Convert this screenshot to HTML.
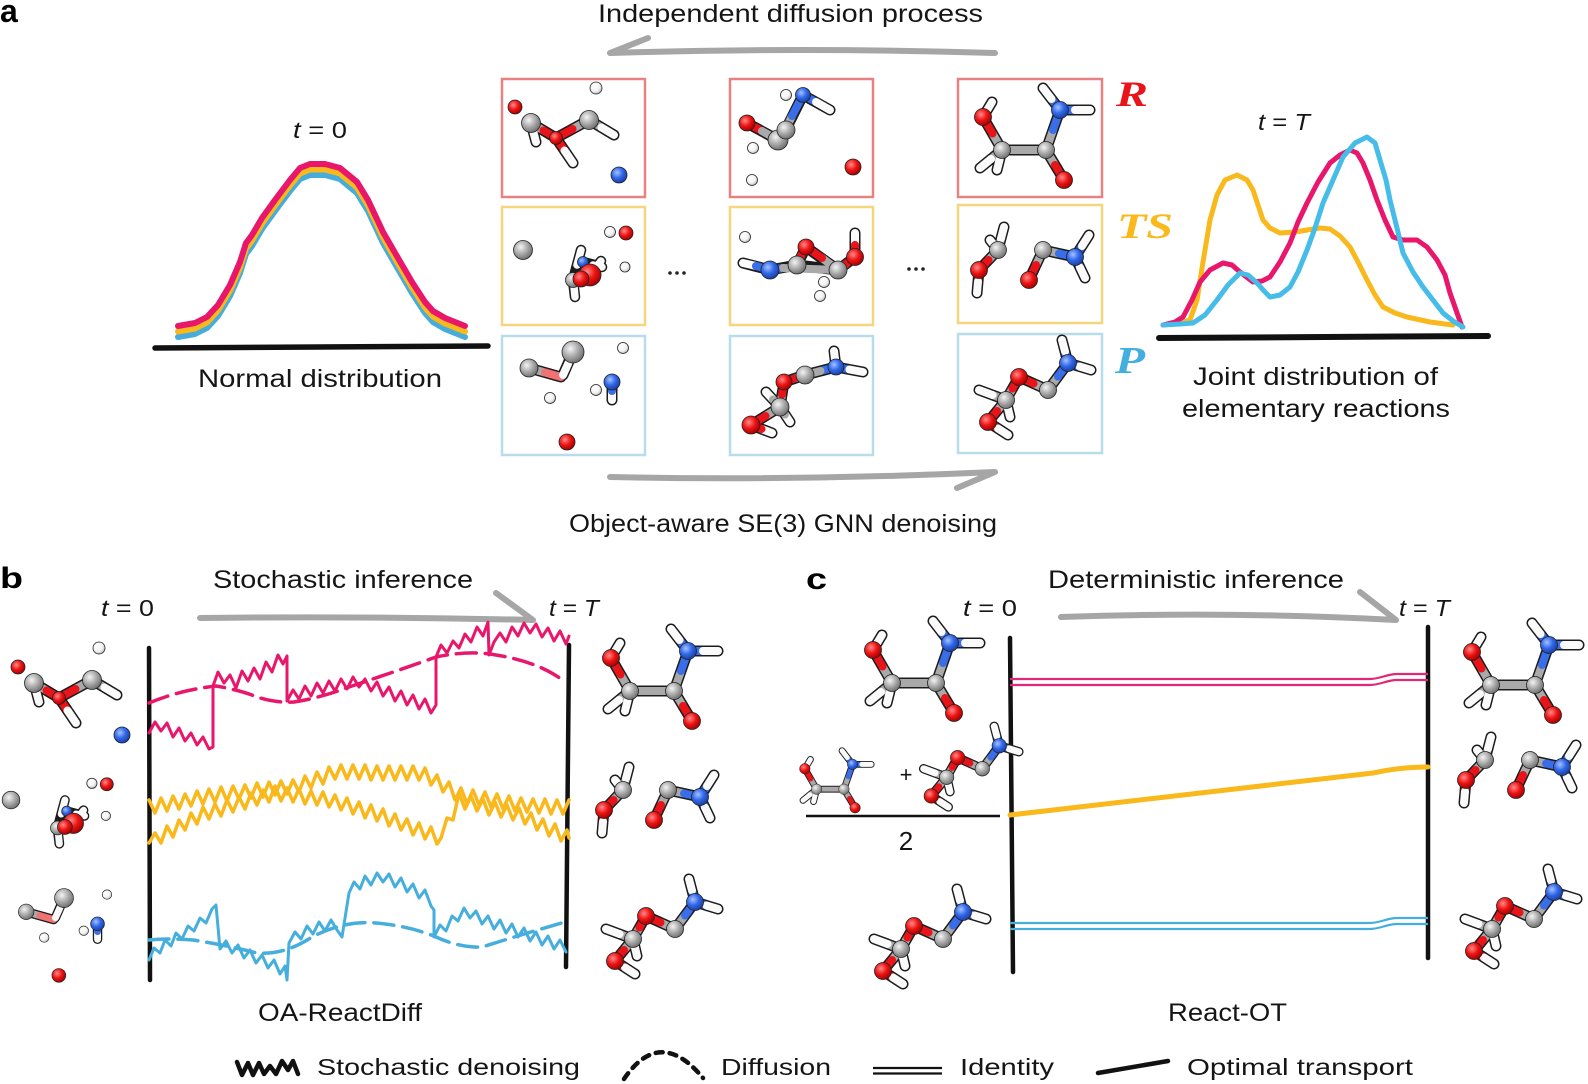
<!DOCTYPE html>
<html><head><meta charset="utf-8"><style>
html,body{margin:0;padding:0;background:#fff;}
svg{display:block;}
text{font-family:"Liberation Sans",sans-serif;fill:#151515;}
</style></head><body>
<svg width="1588" height="1084" viewBox="0 0 1588 1084" xmlns="http://www.w3.org/2000/svg">
<defs>
<radialGradient id="gC" cx="0.38" cy="0.35" r="0.7"><stop offset="0" stop-color="#f4f4f4"/><stop offset="0.5" stop-color="#acacac"/><stop offset="1" stop-color="#6a6a6a"/></radialGradient>
<radialGradient id="gO" cx="0.38" cy="0.35" r="0.7"><stop offset="0" stop-color="#ff8a8a"/><stop offset="0.5" stop-color="#ee1414"/><stop offset="1" stop-color="#9a0000"/></radialGradient>
<radialGradient id="gN" cx="0.38" cy="0.35" r="0.7"><stop offset="0" stop-color="#a6c2ff"/><stop offset="0.5" stop-color="#3068ea"/><stop offset="1" stop-color="#1a3a99"/></radialGradient>
<radialGradient id="gH" cx="0.38" cy="0.35" r="0.7"><stop offset="0" stop-color="#ffffff"/><stop offset="0.6" stop-color="#f2f2f2"/><stop offset="1" stop-color="#b8b8b8"/></radialGradient>

<g id="molR">
<path fill="none" stroke="#1c1c1c" stroke-width="11" stroke-linecap="round" d="M-47,-23L-38,-38M-47,-23L-28,10M-28,10L-50,28M-28,10L-33,30M-28,10L16,10M16,10L30,-30M30,-30L13,-52M30,-30L60,-30M16,10L34,40"/>
<path fill="none" stroke="#a9a9a9" stroke-width="8" stroke-linecap="round" d="M-28,10L-37.5,-6.5M-28,10L-39,19M-28,10L-30.5,20M-28,10L16,10M16,10L23,-10M16,10L25,25"/>
<path fill="none" stroke="#e8141a" stroke-width="8" stroke-linecap="round" d="M-47,-23L-42.5,-30.5M-47,-23L-37.5,-6.5M34,40L25,25"/>
<path fill="none" stroke="#3a6de8" stroke-width="8" stroke-linecap="round" d="M30,-30L23,-10M30,-30L21.5,-41M30,-30L45,-30"/>
<path fill="none" stroke="#fafafa" stroke-width="8" stroke-linecap="round" d="M-42.5,-30.5L-38,-38M-39,19L-50,28M-30.5,20L-33,30M21.5,-41L13,-52M45,-30L60,-30"/>
<g stroke="#222" stroke-width="0.8">
<circle cx="-28" cy="10" r="8.5" fill="url(#gC)"/><circle cx="16" cy="10" r="8.5" fill="url(#gC)"/>
<circle cx="-47" cy="-23" r="8.5" fill="url(#gO)"/><circle cx="30" cy="-30" r="8.5" fill="url(#gN)"/>
<circle cx="34" cy="40" r="8.5" fill="url(#gO)"/>
</g>
</g>

<g id="molTS">
<path fill="none" stroke="#1c1c1c" stroke-width="11" stroke-linecap="round" d="M-32,-12L-26,-35M-32,-12L-40,-22M-32,-12L-51,8M-51,8L-53,31M-1,18L13,-12M13,-12L45,-5M45,-5L59,-27M45,-5L55,16"/>
<path fill="none" stroke="#a9a9a9" stroke-width="8" stroke-linecap="round" d="M-32,-12L-29,-23.5M-32,-12L-36,-17M-32,-12L-41.5,-2M13,-12L6,3M13,-12L29,-8.5"/>
<path fill="none" stroke="#e8141a" stroke-width="8" stroke-linecap="round" d="M-51,8L-41.5,-2M-51,8L-52,19.5M-1,18L6,3"/>
<path fill="none" stroke="#3a6de8" stroke-width="8" stroke-linecap="round" d="M45,-5L29,-8.5M45,-5L52,-16M45,-5L50,5.5"/>
<path fill="none" stroke="#fafafa" stroke-width="8" stroke-linecap="round" d="M-29,-23.5L-26,-35M-36,-17L-40,-22M-52,19.5L-53,31M52,-16L59,-27M50,5.5L55,16"/>
<g stroke="#222" stroke-width="0.8">
<circle cx="-32" cy="-12" r="8.5" fill="url(#gC)"/><circle cx="-51" cy="8" r="8.5" fill="url(#gO)"/>
<circle cx="-1" cy="18" r="8.5" fill="url(#gO)"/><circle cx="13" cy="-12" r="8.5" fill="url(#gC)"/>
<circle cx="45" cy="-5" r="8.5" fill="url(#gN)"/>
</g>
</g>

<g id="molP">
<path fill="none" stroke="#1c1c1c" stroke-width="11" stroke-linecap="round" d="M38,-32L32,-55M38,-32L61,-25M38,-32L18,-5M18,-5L-11,-18M-11,-18L-24,5M-24,5L-51,-5M-24,5L-20,22M-24,5L-42,27M-42,27L-22,40"/>
<path fill="none" stroke="#a9a9a9" stroke-width="8" stroke-linecap="round" d="M18,-5L28,-18.5M18,-5L3.5,-11.5M-24,5L-17.5,-6.5M-24,5L-37.5,0M-24,5L-22,13.5M-24,5L-33,16"/>
<path fill="none" stroke="#e8141a" stroke-width="8" stroke-linecap="round" d="M-11,-18L3.5,-11.5M-11,-18L-17.5,-6.5M-42,27L-33,16M-42,27L-32,33.5"/>
<path fill="none" stroke="#3a6de8" stroke-width="8" stroke-linecap="round" d="M38,-32L35,-43.5M38,-32L49.5,-28.5M38,-32L28,-18.5"/>
<path fill="none" stroke="#fafafa" stroke-width="8" stroke-linecap="round" d="M35,-43.5L32,-55M49.5,-28.5L61,-25M-37.5,0L-51,-5M-22,13.5L-20,22M-32,33.5L-22,40"/>
<g stroke="#222" stroke-width="0.8">
<circle cx="38" cy="-32" r="8.5" fill="url(#gN)"/><circle cx="18" cy="-5" r="8.5" fill="url(#gC)"/>
<circle cx="-11" cy="-18" r="8.5" fill="url(#gO)"/><circle cx="-24" cy="5" r="8.5" fill="url(#gC)"/>
<circle cx="-42" cy="27" r="8.5" fill="url(#gO)"/>
</g>
</g>

<g id="noiseR">
<path fill="none" stroke="#1c1c1c" stroke-width="11" stroke-linecap="round" d="M-42,-14L-37,5M-42,-14L-17,1M-17,1L16,-17M16,-17L41,-2M-17,1L0,26"/>
<path fill="none" stroke="#a9a9a9" stroke-width="8" stroke-linecap="round" d="M-42,-14L-39.5,-4.5M-42,-14L-29.5,-6.5M16,-17L-0.5,-8M16,-17L28.5,-9.5"/>
<path fill="none" stroke="#e8141a" stroke-width="8" stroke-linecap="round" d="M-17,1L-29.5,-6.5M-17,1L-0.5,-8M-17,1L-8.5,13.5"/>
<path fill="none" stroke="#fafafa" stroke-width="8" stroke-linecap="round" d="M-39.5,-4.5L-37,5M28.5,-9.5L41,-2M-8.5,13.5L0,26"/>
<g stroke="#222" stroke-width="0.8">
<circle cx="-42" cy="-14" r="9.5" fill="url(#gC)"/><circle cx="16" cy="-17" r="9.5" fill="url(#gC)"/>
<circle cx="-17" cy="1" r="6.5" fill="url(#gO)"/>
<circle cx="23" cy="-49" r="6" fill="url(#gH)"/><circle cx="-58" cy="-30" r="7" fill="url(#gO)"/>
<circle cx="46" cy="38" r="8" fill="url(#gN)"/>
</g>
</g>

<g id="noiseTS">
<path fill="none" stroke="#1c1c1c" stroke-width="10.5" stroke-linecap="round" d="M0,15L8,-15M0,15L2,32M10,-3L29,2M17,10L28,-4"/>
<path fill="none" stroke="#fafafa" stroke-width="7.5" stroke-linecap="round" d="M4,0L8,-15M1,22L2,32M20,0L29,2M22,4L28,-4"/>
<g stroke="#222" stroke-width="0.8">
<circle cx="-50" cy="-15" r="9.5" fill="url(#gC)"/>
<circle cx="37" cy="-33" r="5.5" fill="url(#gH)"/><circle cx="53" cy="-32" r="7" fill="url(#gO)"/>
<circle cx="52" cy="2" r="5" fill="url(#gH)"/>
<circle cx="0" cy="15" r="7.5" fill="url(#gC)"/><circle cx="10" cy="-3" r="5.5" fill="url(#gN)"/>
<circle cx="17" cy="10" r="11" fill="url(#gO)"/><circle cx="8" cy="14" r="8" fill="url(#gO)"/>
</g>
</g>

<g id="noiseP">
<path fill="none" stroke="#1c1c1c" stroke-width="11" stroke-linecap="round" d="M0,-43L-10,-20M-44,-27L-12,-18M39,-13L39,5"/>
<path fill="none" stroke="#a9a9a9" stroke-width="8" stroke-linecap="round" d="M0,-43L-5,-31M-44,-27L-28,-22.5"/>
<path fill="none" stroke="#f07272" stroke-width="8" stroke-linecap="round" d="M-28,-22.5L-12,-18"/>
<path fill="none" stroke="#fafafa" stroke-width="8" stroke-linecap="round" d="M-5,-31L-10,-20M39,-4L39,5"/>
<path fill="none" stroke="#3a6de8" stroke-width="8" stroke-linecap="round" d="M39,-13L39,-4"/>
<g stroke="#222" stroke-width="0.8">
<circle cx="-44" cy="-27" r="9" fill="url(#gC)"/><circle cx="0" cy="-43" r="11" fill="url(#gC)"/>
<circle cx="39" cy="-13" r="8" fill="url(#gN)"/>
<circle cx="50" cy="-47" r="5.5" fill="url(#gH)"/><circle cx="23" cy="-5" r="5.5" fill="url(#gH)"/>
<circle cx="-23" cy="3" r="5.5" fill="url(#gH)"/><circle cx="-6" cy="47" r="8" fill="url(#gO)"/>
</g>
</g>
</defs>

<rect width="1588" height="1084" fill="#fff"/>

<!-- ===== Panel a ===== -->
<text x="0" y="22" font-size="32" font-weight="bold" style="fill:#000">a</text>
<text x="598" y="22" font-size="25" textLength="385" lengthAdjust="spacingAndGlyphs">Independent diffusion process</text>
<path d="M995,53 Q800,47 610,53 M610,53 L648,38" fill="none" stroke="#a6a6a6" stroke-width="6" stroke-linecap="round" stroke-linejoin="round"/>

<text x="293" y="138" font-size="23" textLength="54" lengthAdjust="spacingAndGlyphs"><tspan font-style="italic">t</tspan> = 0</text>
<g fill="none" stroke-width="6" stroke-linejoin="round" stroke-linecap="round">
<polyline transform="translate(0,11)" stroke="#45acdc" points="178,326 195,323 207,317 218,305 230,285 240,262 246,243 252,235 262,218 275,200 290,180 300,168 310,164 325,164 340,168 357,182 368,200 383,232 398,258 412,282 425,302 433,311 445,318 455,322 465,326"/>
<polyline transform="translate(0,5.5)" stroke="#f9b81b" points="178,326 195,323 207,317 218,305 230,285 240,262 246,243 252,235 262,218 275,200 290,180 300,168 310,164 325,164 340,168 357,182 368,200 383,232 398,258 412,282 425,302 433,311 445,318 455,322 465,326"/>
<polyline stroke="#e8176b" points="178,326 195,323 207,317 218,305 230,285 240,262 246,243 252,235 262,218 275,200 290,180 300,168 310,164 325,164 340,168 357,182 368,200 383,232 398,258 412,282 425,302 433,311 445,318 455,322 465,326"/>
</g>
<path d="M155,348 L488,346" stroke="#111" stroke-width="5.5" stroke-linecap="round"/>
<text x="198" y="387" font-size="25" textLength="244" lengthAdjust="spacingAndGlyphs">Normal distribution</text>

<!-- boxes -->
<g fill="none" stroke-width="2.5">
<rect x="502" y="79" width="143" height="118" stroke="#e88282"/>
<rect x="730" y="79" width="143" height="118" stroke="#e88282"/>
<rect x="958" y="79" width="144" height="118" stroke="#e88282"/>
<rect x="502" y="207" width="143" height="118" stroke="#f6d67c"/>
<rect x="730" y="207" width="143" height="118" stroke="#f6d67c"/>
<rect x="958" y="205" width="144" height="118" stroke="#f6d67c"/>
<rect x="502" y="336" width="143" height="119" stroke="#b8dcea"/>
<rect x="730" y="336" width="143" height="119" stroke="#b8dcea"/>
<rect x="958" y="334" width="144" height="119" stroke="#b8dcea"/>
</g>
<g fill="#222">
<circle cx="670" cy="273" r="1.8"/><circle cx="677" cy="273" r="1.8"/><circle cx="684" cy="273" r="1.8"/>
<circle cx="909" cy="269" r="1.8"/><circle cx="916" cy="269" r="1.8"/><circle cx="923" cy="269" r="1.8"/>
</g>

<use href="#noiseR" transform="translate(573,137)"/>
<use href="#noiseTS" transform="translate(573,265)"/>
<use href="#noiseP" transform="translate(573,395)"/>

<!-- col2 row1 -->
<g>
<path fill="none" stroke="#1c1c1c" stroke-width="11" stroke-linecap="round" d="M747,123L778,140M782,137L803,95M803,95L830,110"/>
<path fill="none" stroke="#e8141a" stroke-width="8" stroke-linecap="round" d="M747,123L762,131"/>
<path fill="none" stroke="#a9a9a9" stroke-width="8" stroke-linecap="round" d="M762,131L778,140M782,137L792,116"/>
<path fill="none" stroke="#3a6de8" stroke-width="8" stroke-linecap="round" d="M792,116L803,95M803,95L816,102"/>
<path fill="none" stroke="#fafafa" stroke-width="8" stroke-linecap="round" d="M816,102L830,110"/>
<g stroke="#222" stroke-width="0.8">
<circle cx="778" cy="140" r="10" fill="url(#gC)"/><circle cx="786" cy="130" r="9" fill="url(#gC)"/>
<circle cx="747" cy="123" r="8" fill="url(#gO)"/><circle cx="803" cy="95" r="7.5" fill="url(#gN)"/>
<circle cx="786" cy="95" r="5.5" fill="url(#gH)"/><circle cx="753" cy="148" r="5.5" fill="url(#gH)"/>
<circle cx="752" cy="180" r="5.5" fill="url(#gH)"/><circle cx="853" cy="167" r="8" fill="url(#gO)"/>
</g>
</g>
<!-- col2 row2 -->
<g>
<path fill="none" stroke="#1c1c1c" stroke-width="11" stroke-linecap="round" d="M743,263L770,270M770,270L797,265M797,265L838,270M797,265L806,247M806,247L838,270M838,270L855,257M855,257L855,233"/>
<path fill="none" stroke="#fafafa" stroke-width="8" stroke-linecap="round" d="M743,263L756,266M855,245L855,233"/>
<path fill="none" stroke="#3a6de8" stroke-width="8" stroke-linecap="round" d="M756,266L770,270M770,270L783,268"/>
<path fill="none" stroke="#a9a9a9" stroke-width="8" stroke-linecap="round" d="M783,268L838,270M797,265L801,256M822,258L838,270M838,270L846,264"/>
<path fill="none" stroke="#e8141a" stroke-width="8" stroke-linecap="round" d="M801,256L806,247M806,247L822,258M846,264L855,257M855,257L855,245"/>
<g stroke="#222" stroke-width="0.8">
<circle cx="770" cy="270" r="9" fill="url(#gN)"/><circle cx="797" cy="265" r="9" fill="url(#gC)"/>
<circle cx="838" cy="270" r="9" fill="url(#gC)"/><circle cx="806" cy="247" r="8" fill="url(#gO)"/>
<circle cx="855" cy="257" r="8.5" fill="url(#gO)"/>
<circle cx="745" cy="237" r="5.5" fill="url(#gH)"/><circle cx="824" cy="282" r="5.5" fill="url(#gH)"/>
<circle cx="820" cy="296" r="5.5" fill="url(#gH)"/>
</g>
</g>
<!-- col2 row3 -->
<g>
<path fill="none" stroke="#1c1c1c" stroke-width="11" stroke-linecap="round" d="M836,367L834,351M836,367L863,372M836,367L805,375M805,375L784,382M784,382L780,407M780,407L766,392M780,407L790,422M780,407L751,425M751,425L772,433"/>
<path fill="none" stroke="#3a6de8" stroke-width="8" stroke-linecap="round" d="M836,367L835,359M836,367L849.5,369.5M836,367L820.5,371"/>
<path fill="none" stroke="#fafafa" stroke-width="8" stroke-linecap="round" d="M835,359L834,351M849.5,369.5L863,372M773,399.5L766,392M785,414.5L790,422M761.5,429L772,433"/>
<path fill="none" stroke="#a9a9a9" stroke-width="8" stroke-linecap="round" d="M820.5,371L805,375M805,375L794.5,378.5M782,394.5L780,407M780,407L773,399.5M780,407L785,414.5M780,407L765.5,416"/>
<path fill="none" stroke="#e8141a" stroke-width="8" stroke-linecap="round" d="M794.5,378.5L784,382M784,382L782,394.5M765.5,416L751,425M751,425L761.5,429"/>
<g stroke="#222" stroke-width="0.8">
<circle cx="836" cy="367" r="8" fill="url(#gN)"/><circle cx="805" cy="375" r="9" fill="url(#gC)"/>
<circle cx="784" cy="382" r="8" fill="url(#gO)"/><circle cx="780" cy="407" r="9" fill="url(#gC)"/>
<circle cx="751" cy="425" r="9" fill="url(#gO)"/>
</g>
</g>

<use href="#molR" transform="translate(1030,140)"/>
<use href="#molTS" transform="translate(1030,262)"/>
<use href="#molP" transform="translate(1030,395)"/>

<text x="1116" y="106" font-size="36" font-style="italic" font-weight="bold" textLength="32" lengthAdjust="spacingAndGlyphs" style="fill:#e8141a;font-family:'Liberation Serif',serif">R</text>
<text x="1117" y="238" font-size="36" font-style="italic" font-weight="bold" textLength="56" lengthAdjust="spacingAndGlyphs" style="fill:#f9b81b;font-family:'Liberation Serif',serif">TS</text>
<text x="1115" y="373" font-size="38" font-style="italic" font-weight="bold" textLength="30" lengthAdjust="spacingAndGlyphs" style="fill:#43aee0;font-family:'Liberation Serif',serif">P</text>

<text x="1258" y="130" font-size="23" textLength="52" lengthAdjust="spacingAndGlyphs"><tspan font-style="italic">t</tspan> = <tspan font-style="italic">T</tspan></text>
<g fill="none" stroke-width="5" stroke-linejoin="round" stroke-linecap="round">
<polyline stroke="#f9b81b" points="1163,325 1180,323 1190,320 1197,300 1203,262 1210,220 1217,195 1225,180 1237,175 1247,180 1253,190 1258,205 1263,220 1270,228 1280,233 1295,232 1307,230 1320,228 1330,229 1340,236 1350,247 1358,262 1367,280 1375,295 1383,307 1395,313 1407,317 1430,322 1453,325"/>
<polyline stroke="#e8176b" points="1163,325 1175,322 1183,317 1192,300 1200,282 1210,270 1223,263 1232,265 1240,272 1253,282 1262,281 1270,277 1280,262 1290,243 1298,222 1307,203 1318,182 1330,163 1340,155 1350,150 1357,153 1363,163 1370,180 1377,200 1385,220 1393,237 1403,240 1417,240 1427,247 1437,260 1445,275 1450,293 1456,310 1462,327"/>
<polyline stroke="#45bde8" points="1163,325 1180,324 1193,323 1205,315 1217,300 1228,285 1240,273 1248,275 1257,283 1265,292 1270,297 1280,295 1290,287 1298,272 1307,250 1315,228 1323,203 1333,180 1343,157 1355,143 1367,137 1375,143 1380,160 1386,180 1390,200 1397,228 1403,253 1413,272 1423,287 1433,300 1443,313 1453,321 1463,327"/>
</g>
<path d="M1159,338 L1488,336" stroke="#111" stroke-width="6" stroke-linecap="round"/>
<text x="1193" y="385" font-size="25" textLength="245" lengthAdjust="spacingAndGlyphs">Joint distribution of</text>
<text x="1182" y="417" font-size="25" textLength="268" lengthAdjust="spacingAndGlyphs">elementary reactions</text>

<path d="M610,477 Q800,481 995,472 M995,472 L957,488" fill="none" stroke="#a6a6a6" stroke-width="6" stroke-linecap="round" stroke-linejoin="round"/>
<text x="569" y="532" font-size="25" textLength="428" lengthAdjust="spacingAndGlyphs">Object-aware SE(3) GNN denoising</text>

<!-- ===== Panel b ===== -->
<text x="0" y="588" font-size="30" font-weight="bold" textLength="23" lengthAdjust="spacingAndGlyphs" style="fill:#000">b</text>
<text x="213" y="588" font-size="25" textLength="260" lengthAdjust="spacingAndGlyphs">Stochastic inference</text>
<text x="101" y="616" font-size="23" textLength="53" lengthAdjust="spacingAndGlyphs"><tspan font-style="italic">t</tspan> = 0</text>
<text x="549" y="616" font-size="23" textLength="50" lengthAdjust="spacingAndGlyphs"><tspan font-style="italic">t</tspan> = <tspan font-style="italic">T</tspan></text>
<path d="M200,618 Q370,616 533,620 M533,620 L496,593" fill="none" stroke="#a6a6a6" stroke-width="6" stroke-linecap="round" stroke-linejoin="round"/>

<path d="M149,648 L150,980" stroke="#111" stroke-width="4.5" stroke-linecap="round"/>
<path d="M569,645 L566,967" stroke="#111" stroke-width="4.5" stroke-linecap="round"/>

<g fill="none" stroke-linejoin="round" stroke-linecap="round">
<path stroke="#e8176b" stroke-width="3.5" stroke-dasharray="20 9" d="M149,703 Q180,690 216,686 Q240,690 257,697 Q275,703 294,702 Q320,698 349,687 Q400,670 436,657 Q470,650 496,655 Q540,662 565,682"/>
<polyline stroke="#e8176b" stroke-width="3" points="149,733 155,722 161,731 167,723 173,737 179,728 185,741 191,733 197,745 203,737 209,749 213,747 213,686 218,672 224,683 230,675 236,688 242,671 248,681 254,668 260,679 266,662 272,672 278,655 283,664 287,656 287,701 293,690 299,699 305,686 311,696 317,683 323,693 329,681 335,691 341,679 347,689 353,677 359,687 365,679 371,691 377,682 383,696 389,687 395,701 401,691 407,705 413,695 419,709 425,699 431,713 436,705 436,657 441,645 447,653 453,641 459,648 465,634 471,642 477,627 483,636 488,622 489,655 494,642 500,633 506,642 512,627 518,636 524,623 530,633 536,624 542,637 548,628 554,641 560,631 566,644 569,636"/>

<polyline stroke="#f9b81b" stroke-width="3.5" points="149,800 155,813 161,798 167,811 173,796 179,809 185,794 191,806 197,791 203,804 209,789 215,802 221,787 227,801 233,786 239,799 245,785 251,798 257,783 263,797 269,782 275,795 281,781 287,794 293,780 299,792 305,776 311,788 317,772 323,784 329,767 335,779 341,765 347,779 353,765 359,779 365,765 371,780 377,766 383,780 389,766 395,780 401,766 407,780 413,766 419,780 425,768 431,785 437,775 443,792 449,782 455,800 461,788 467,804 473,790 479,805 485,792 491,807 497,794 503,809 509,796 515,811 521,798 527,812 533,799 539,813 545,799 551,814 557,800 563,814 569,800"/>
<polyline stroke="#f9b81b" stroke-width="3.5" points="149,843 155,833 161,843 167,826 173,837 179,820 185,830 191,813 197,824 203,807 209,819 215,804 221,816 227,800 233,812 239,797 245,809 251,793 257,805 263,790 269,802 275,786 281,801 287,788 293,802 299,789 305,804 311,791 317,805 323,792 329,807 335,795 341,810 347,798 353,814 359,802 365,818 371,805 377,821 383,809 389,826 395,814 401,830 407,819 413,835 419,823 425,839 431,827 437,844 441,838 447,818 453,820 459,793 465,809 471,796 477,811 483,799 489,815 495,802 501,817 507,805 513,820 519,808 525,824 531,813 537,830 543,819 549,836 555,824 561,841 567,830 569,838"/>

<path stroke="#45aedd" stroke-width="3.5" stroke-dasharray="20 9" d="M149,940 Q170,938 193,940 Q225,945 257,953 Q285,955 312,937 Q345,920 376,923 Q410,926 436,937 Q460,948 482,947 Q520,935 565,922"/>
<polyline stroke="#45aedd" stroke-width="3" points="149,960 154,948 160,953 165,940 171,946 176,933 182,939 188,926 194,931 200,918 206,923 212,909 216,905 220,949 226,941 232,953 238,945 244,958 250,950 256,963 262,955 268,968 274,960 280,974 285,966 287,980 289,943 295,932 301,939 307,926 313,934 319,922 325,931 331,920 337,930 342,937 349,893 354,882 360,889 365,876 371,885 377,873 383,882 389,874 395,887 401,878 407,892 413,884 419,898 425,890 431,906 434,910 434,937 440,925 446,931 452,916 458,921 464,908 470,918 476,911 482,924 488,916 494,929 500,920 506,933 512,924 518,937 524,928 530,941 536,932 542,945 548,936 554,949 560,940 566,952"/>
</g>

<use href="#noiseR" transform="translate(76,697)"/>
<use href="#noiseTS" transform="translate(57.5,814) scale(0.93)"/>
<use href="#noiseP" transform="translate(64,935) scale(0.86)"/>
<use href="#molR" transform="translate(658,681)"/>
<use href="#molTS" transform="translate(655,802)"/>
<use href="#molP" transform="translate(657,934)"/>

<text x="258" y="1021" font-size="25" textLength="164" lengthAdjust="spacingAndGlyphs">OA-ReactDiff</text>

<!-- ===== Panel c ===== -->
<text x="806" y="589" font-size="30" font-weight="bold" textLength="21" lengthAdjust="spacingAndGlyphs" style="fill:#000">c</text>
<text x="1048" y="588" font-size="25" textLength="296" lengthAdjust="spacingAndGlyphs">Deterministic inference</text>
<text x="963" y="616" font-size="23" textLength="54" lengthAdjust="spacingAndGlyphs"><tspan font-style="italic">t</tspan> = 0</text>
<text x="1399" y="616" font-size="23" textLength="51" lengthAdjust="spacingAndGlyphs"><tspan font-style="italic">t</tspan> = <tspan font-style="italic">T</tspan></text>
<path d="M1061,617 Q1230,611 1396,620 M1396,620 L1360,592" fill="none" stroke="#a6a6a6" stroke-width="6" stroke-linecap="round" stroke-linejoin="round"/>

<path d="M1010,638 L1013,972" stroke="#111" stroke-width="4.5" stroke-linecap="round"/>
<path d="M1428,627 L1428,958" stroke="#111" stroke-width="4.5" stroke-linecap="round"/>

<g fill="none" stroke-width="2.2">
<path stroke="#e0287a" d="M1010,679 L1370,679 C1380,679 1387,674 1397,674 L1428,674"/>
<path stroke="#e0287a" d="M1010,685 L1370,685 C1380,685 1387,680 1397,680 L1428,680"/>
<path stroke="#45aedd" d="M1010,923 L1370,923 C1380,923 1387,918 1397,918 L1428,918"/>
<path stroke="#45aedd" d="M1010,929 L1370,929 C1380,929 1387,924 1397,924 L1428,924"/>
</g>
<path d="M1010,815 L1373,773 Q1400,767 1428,767" fill="none" stroke="#f9b81b" stroke-width="5" stroke-linecap="round"/>

<use href="#molR" transform="translate(920,673)"/>
<use href="#molP" transform="translate(925,944)"/>
<use href="#molR" transform="translate(834,783) scale(0.62)"/>
<use href="#molP" transform="translate(967,773) scale(0.85)"/>
<text x="906" y="782" font-size="22" text-anchor="middle">+</text>
<path d="M806,816 L1000,816" stroke="#111" stroke-width="2.5"/>
<text x="906" y="850" font-size="26" text-anchor="middle">2</text>

<use href="#molR" transform="translate(1519,675)"/>
<use href="#molTS" transform="translate(1517,772)"/>
<use href="#molP" transform="translate(1516,924)"/>

<text x="1168" y="1021" font-size="25" textLength="119" lengthAdjust="spacingAndGlyphs">React-OT</text>

<!-- ===== Legend ===== -->
<polyline fill="none" stroke="#111" stroke-width="4.5" stroke-linejoin="round" stroke-linecap="round" points="237,1062 242,1075 248,1063 253,1075 259,1063 264,1074 270,1066 276,1074 282,1061 288,1070 293,1061 298,1074"/>
<text x="317" y="1075" font-size="23" textLength="263" lengthAdjust="spacingAndGlyphs">Stochastic denoising</text>
<path d="M624,1079 Q660,1026 703,1078" fill="none" stroke="#111" stroke-width="4.5" stroke-linecap="round" stroke-dasharray="7 7"/>
<text x="721" y="1075" font-size="23" textLength="110" lengthAdjust="spacingAndGlyphs">Diffusion</text>
<path d="M873,1068 L942,1068 M873,1073.5 L942,1073.5" stroke="#111" stroke-width="2.3"/>
<text x="960" y="1075" font-size="23" textLength="94" lengthAdjust="spacingAndGlyphs">Identity</text>
<path d="M1098,1073 L1168,1061" stroke="#111" stroke-width="4.5" stroke-linecap="round"/>
<text x="1187" y="1075" font-size="23" textLength="226" lengthAdjust="spacingAndGlyphs">Optimal transport</text>
</svg>
</body></html>
